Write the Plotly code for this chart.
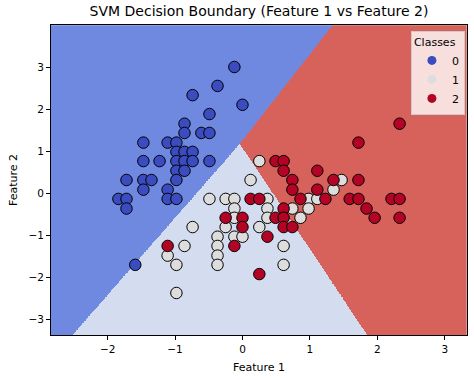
import numpy as np
import plotly.graph_objects as go

# ---- data (standardized features) ----
class0_x = [-0.12, -0.37, -0.74, 0.00, -0.49, -0.86, -0.86, -0.61, -0.49, -1.47, -1.11, -0.98,
            -0.98, -0.86, -0.74, -1.47, -1.23, -0.98, -0.86, -0.74, -0.49, -0.98, -0.86,
            -1.72, -1.47, -1.35, -0.98, -1.47, -1.11, -1.84, -1.72, -1.11, -0.98, -1.72, -1.59]
class0_y = [3.00, 2.55, 2.33, 2.10, 1.88, 1.65, 1.43, 1.43, 1.43, 1.20, 1.20, 1.20,
            0.98, 0.98, 0.98, 0.76, 0.76, 0.76, 0.76, 0.76, 0.76, 0.53, 0.53,
            0.31, 0.31, 0.31, 0.31, 0.08, 0.08, -0.14, -0.14, -0.14, -0.14, -0.37, -1.71]

class1_x = [0.25, 0.12, 1.47, 1.35, -0.49, -0.25, -0.12, 0.37, 0.98, 1.11,
            -0.12, 0.37, 0.74, 0.98, -0.12, 0.37, 0.86, -0.74, -0.25, 0.25,
            -0.37, -0.12, 0.00, -0.86, -0.37, 0.61, -1.11, -0.37, -0.98, -0.37, 0.61, -0.98]
class1_y = [0.76, 0.31, 0.31, 0.08, -0.14, -0.14, -0.14, -0.14, -0.14, -0.14,
            -0.37, -0.37, -0.37, -0.37, -0.59, -0.59, -0.59, -0.81, -0.81, -0.81,
            -1.04, -1.04, -1.04, -1.26, -1.26, -1.26, -1.49, -1.49, -1.71, -1.71, -1.71, -2.38]

class2_x = [2.33, 1.72, 0.49, 0.61, 0.61, 1.11, 0.74, 1.35, 1.72, 0.74, 1.11,
            0.12, 0.25, 0.86, 1.23, 1.59, 1.72, 2.21, 2.33, 0.61, 1.84,
            -0.25, 0.00, 0.49, 0.61, 1.96, 2.33, 0.00, 0.61, 0.74, 0.37, -1.11, -0.12, 0.25]
class2_y = [1.65, 1.20, 0.76, 0.76, 0.53, 0.53, 0.31, 0.31, 0.31, 0.08, 0.08,
            -0.14, -0.14, -0.14, -0.14, -0.14, -0.14, -0.14, -0.14, -0.37, -0.37,
            -0.59, -0.59, -0.59, -0.59, -0.59, -0.59, -0.81, -0.81, -0.81, -1.04, -1.26, -1.26, -1.93]

class_labels = ["0", "1", "2"]

# linear decision scores of the fitted classifier (one per class)
coef_f1 = [0.0, 4.55, 4.839]
coef_f2 = [0.0, -2.48, -2.360]
intercepts = [0.0, 3.084, 2.955]

x_ticks = [-2, -1, 0, 1, 2, 3]
y_ticks = [-3, -2, -1, 0, 1, 2, 3]

# ---- styles ----
region_colors = ["rgb(112,137,224)", "rgb(212,221,240)", "rgb(214,98,91)"]
point_colors = ["#3B4CC0", "#DDDDDD", "#B40426"]
FONT = "DejaVu Sans, Verdana, sans-serif"

xs = [class0_x, class1_x, class2_x]
ys = [class0_y, class1_y, class2_y]
all_x = np.array(sum(xs, []))
all_y = np.array(sum(ys, []))
x_min, x_max = all_x.min() - 1, all_x.max() + 1
y_min, y_max = all_y.min() - 1, all_y.max() + 1

h = 0.01
gx = np.arange(x_min, x_max, h)
gy = np.arange(y_min, y_max, h)
XX, YY = np.meshgrid(gx, gy)
scores = np.stack([coef_f1[k] * XX + coef_f2[k] * YY + intercepts[k] for k in range(3)])
Z = np.argmax(scores, axis=0)

colorscale = [[0, region_colors[0]], [1 / 3, region_colors[0]],
              [1 / 3, region_colors[1]], [2 / 3, region_colors[1]],
              [2 / 3, region_colors[2]], [1, region_colors[2]]]

fig = go.Figure()
fig.add_trace(go.Heatmap(x=gx, y=gy, z=Z, zmin=-0.5, zmax=2.5, colorscale=colorscale,
                         showscale=False, hoverinfo="skip", zsmooth=False))

for k in range(3):
    fig.add_trace(go.Scatter(x=xs[k], y=ys[k], mode="markers", showlegend=False,
                             marker=dict(size=11.5, color=point_colors[k],
                                         line=dict(color="black", width=1))))
for k in range(3):
    fig.add_trace(go.Scatter(x=[None], y=[None], mode="markers", name=class_labels[k],
                             marker=dict(size=9, color=point_colors[k])))

axis_common = dict(showgrid=False, zeroline=False, showline=True, linecolor="black",
                   linewidth=1, mirror=True, ticks="outside", ticklen=4, tickwidth=1,
                   tickcolor="black", tickfont=dict(size=10.5, color="black", family=FONT))

fig.update_xaxes(range=[x_min, x_max], tickvals=x_ticks,
                 ticktext=[str(t).replace("-", "\u2212") for t in x_ticks],
                 title=dict(text="Feature 1", font=dict(size=11, color="black", family=FONT),
                            standoff=9),
                 **axis_common)
fig.update_yaxes(range=[y_min, y_max], tickvals=y_ticks,
                 ticktext=[str(t).replace("-", "\u2212") for t in y_ticks],
                 title=dict(text="Feature 2", font=dict(size=11, color="black", family=FONT),
                            standoff=8),
                 **axis_common)

fig.update_layout(
    width=474, height=380,
    margin=dict(l=51, r=7, t=25, b=45),
    paper_bgcolor="white", plot_bgcolor="white",
    font=dict(family=FONT, color="black"),
    title=dict(text="SVM Decision Boundary (Feature 1 vs Feature 2)",
               x=0.5, xref="paper", xanchor="center", y=0.972, yanchor="middle",
               font=dict(size=14, color="black", family=FONT)),
    legend=dict(title=dict(text="Classes", font=dict(size=11, family=FONT), side="top"),
                x=0.995, y=0.982, xanchor="right", yanchor="top",
                bgcolor="rgba(255,255,255,0.8)", bordercolor="#CCCCCC", borderwidth=1,
                font=dict(size=11, family=FONT), itemwidth=30, tracegroupgap=0),
)

fig.write_html("out.html", config={"displayModeBar": False},
               post_script="document.body.style.margin='0px';")
